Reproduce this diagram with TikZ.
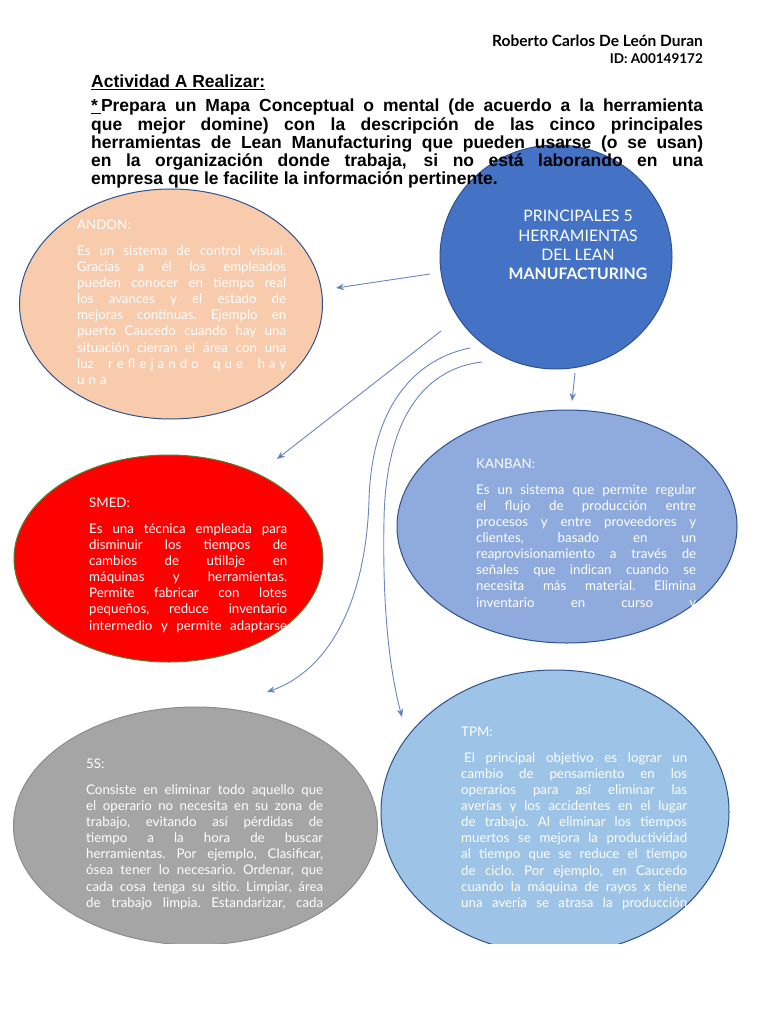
\documentclass[tikz,border=0pt]{standalone}
\usepackage{fontspec}
\setmainfont{Lato}
\newfontfamily\arialfont{Liberation Sans}
\usetikzlibrary{shapes.geometric,arrows.meta}

\definecolor{andonfill}{HTML}{F8CBAD}
\definecolor{hubfill}{HTML}{4472C4}
\definecolor{kanbanfill}{HTML}{8FAADC}
\definecolor{tpmfill}{HTML}{9DC3E6}
\definecolor{fivesfill}{HTML}{A5A5A5}
\definecolor{rimblue}{HTML}{2F528F}
\definecolor{rimgreen}{HTML}{548235}
\definecolor{rimgray}{HTML}{8C8C8C}
\definecolor{linkblue}{HTML}{6A86BE}
\definecolor{tipblue}{HTML}{4472C4}

% one justified line of a text block
\newcommand\fullline[1]{\hbox to\hsize{#1}}
\newcommand\spaced[1]{{\addfontfeature{LetterSpace=30}#1}}
\newcommand\blurb[3]{\vbox{\frenchspacing\hsize=#1\hbox{#2}\vskip10pt #3}}

\begin{document}
\begin{tikzpicture}[x=1pt, y=-1pt,
  bubble/.style={ellipse, inner sep=0pt, line width=1pt},
  note/.style={anchor=north west, inner sep=0pt, text=white, font=\fontsize{13.3}{16.1}\selectfont},
  link/.style={draw=linkblue, line width=0.9pt, -{Stealth[length=8pt, width=6.5pt, fill=tipblue]}}]
  \fill[white] (0,0) rectangle (768,1024);
  \useasboundingbox (0,0) rectangle (768,1024);

  % Central topic
  \node[bubble, fill=hubfill, draw=rimblue, minimum width=232pt, minimum height=224pt] (hub) at (556,257) {};
  \node[text=white, align=center, font=\fontsize{15.8}{19.3}\selectfont] (hubtext) at (578,245)
    {PRINCIPALES 5\\HERRAMIENTAS\\DEL LEAN\\\textbf{MANUFACTURING}};

  % Tools
  \node[bubble, fill=andonfill, draw=rimblue, minimum width=303pt, minimum height=230pt] (andon) at (171,304) {};
  \node[bubble, fill=red, draw=rimgreen, minimum width=309pt, minimum height=207pt] (smed) at (168.5,558.5) {};
  \node[bubble, fill=kanbanfill, draw=rimblue, minimum width=340pt, minimum height=233pt] (kanban) at (567,526.5) {};
  \begin{scope}
    \clip (0,0) rectangle (768,943);
    \node[bubble, fill=fivesfill, draw=rimgray, minimum width=364pt, minimum height=238pt] (fives) at (195.5,826) {};
    \node[bubble, fill=tpmfill, draw=rimblue, minimum width=348pt, minimum height=284pt] (tpm) at (555,812) {};
  \end{scope}

  % Header
  \node[anchor=base east, inner sep=0pt, font=\bfseries\fontsize{15.5}{17}\selectfont] (author) at (703,47) {Roberto Carlos De León Duran};
  \node[anchor=base east, inner sep=0pt, font=\bfseries\fontsize{13.5}{16}\selectfont] (idnum) at (703,64) {ID: A00149172};
  \node[anchor=base west, inner sep=0pt, font=\arialfont\bfseries\fontsize{17.5}{18.3}\selectfont] (task) at (91,88)
    {\underline{Actividad A Realizar:}};
  \node[anchor=base west, inner sep=0pt, font=\arialfont\bfseries\fontsize{17.5}{18.3}\selectfont] (prompt) at (91,185)
    {\vbox{\hsize=612pt
      \fullline{\underline{*\kern3pt}Prepara un Mapa Conceptual o mental (de acuerdo a la herramienta}
      \fullline{que mejor domine) con la descripción de las cinco principales}
      \fullline{herramientas de Lean Manufacturing que pueden usarse (o se usan)}
      \fullline{en la organización donde trabaja, si no está laborando en una}
      \hbox{empresa que le facilite la información pertinente.}}};

  % Texts of the tools
  \node[note] (andontext) at (77,219.5) {\blurb{209pt}{ANDON:}{%
    \fullline{Es un sistema de control visual.}
    \fullline{Gracias a él los empleados}
    \fullline{pueden conocer en tiempo real}
    \fullline{los avances y el estado de}
    \fullline{mejoras continuas. Ejemplo en}
    \fullline{puerto Caucedo cuando hay una}
    \fullline{situación cierran el área con una}
    \fullline{luz\hfill\spaced{reflejando}\hfill\spaced{que}\hfill\spaced{hay}}
    \hbox{\spaced{una}}}};
  \node[note] (smedtext) at (89,497.5) {\blurb{198pt}{SMED:}{%
    \fullline{Es una técnica empleada para}
    \fullline{disminuir los tiempos de}
    \fullline{cambios de utillaje en}
    \fullline{máquinas y herramientas.}
    \fullline{Permite fabricar con lotes}
    \fullline{pequeños, reduce inventario}
    \fullline{intermedio y permite adaptarse}}};
  \node[note] (kanbantext) at (476,458.5) {\blurb{220pt}{KANBAN:}{%
    \fullline{Es un sistema que permite regular}
    \fullline{el flujo de producción entre}
    \fullline{procesos y entre proveedores y}
    \fullline{clientes, basado en un}
    \fullline{reaprovisionamiento a través de}
    \fullline{señales que indican cuando se}
    \fullline{necesita más material. Elimina}
    \fullline{inventario en curso y}}};
  \node[note] (fivestext) at (86,758.5) {\blurb{237pt}{5S:}{%
    \fullline{Consiste en eliminar todo aquello que}
    \fullline{el operario no necesita en su zona de}
    \fullline{trabajo, evitando así pérdidas de}
    \fullline{tiempo a la hora de buscar}
    \fullline{herramientas. Por ejemplo, Clasificar,}
    \fullline{ósea tener lo necesario. Ordenar, que}
    \fullline{cada cosa tenga su sitio. Limpiar, área}
    \fullline{de trabajo limpia. Estandarizar, cada}}};
  \node[note] (tpmtext) at (461,726.5) {\blurb{226pt}{TPM:}{%
    \fullline{\kern3pt El principal objetivo es lograr un}
    \fullline{cambio de pensamiento en los}
    \fullline{operarios para así eliminar las}
    \fullline{averías y los accidentes en el lugar}
    \fullline{de trabajo. Al eliminar los tiempos}
    \fullline{muertos se mejora la productividad}
    \fullline{al tiempo que se reduce el tiempo}
    \fullline{de ciclo. Por ejemplo, en Caucedo}
    \fullline{cuando la máquina de rayos x tiene}
    \fullline{una avería se atrasa la producción}}};

  % Arrow ends (the arrows touch no bubble)
  \coordinate (outandon) at (430,274);
  \coordinate (outkanban) at (575,373);
  \coordinate (outsmed) at (441,331);
  \coordinate (outfives) at (470,348);
  \coordinate (outtpm) at (482,362);
  \coordinate (inandon) at (336,288);
  \coordinate (inkanban) at (572,401);
  \coordinate (insmed) at (277,459);
  \coordinate (infives) at (267,692);
  \coordinate (intpm) at (402,717);

  % Arrows
  \draw[link] (outandon) -- (inandon);
  \draw[link] (outkanban) -- (inkanban);
  \draw[link] (outsmed) -- (insmed);
  \draw[link] (outfives) .. controls (420,358) and (372,400) .. (369,500)
    .. controls (366,600) and (330,670) .. (infives);
  \draw[link] (outtpm) .. controls (430,368) and (386,410) .. (384,520)
    .. controls (382,620) and (392,680) .. (intpm);
\end{tikzpicture}
\end{document}
